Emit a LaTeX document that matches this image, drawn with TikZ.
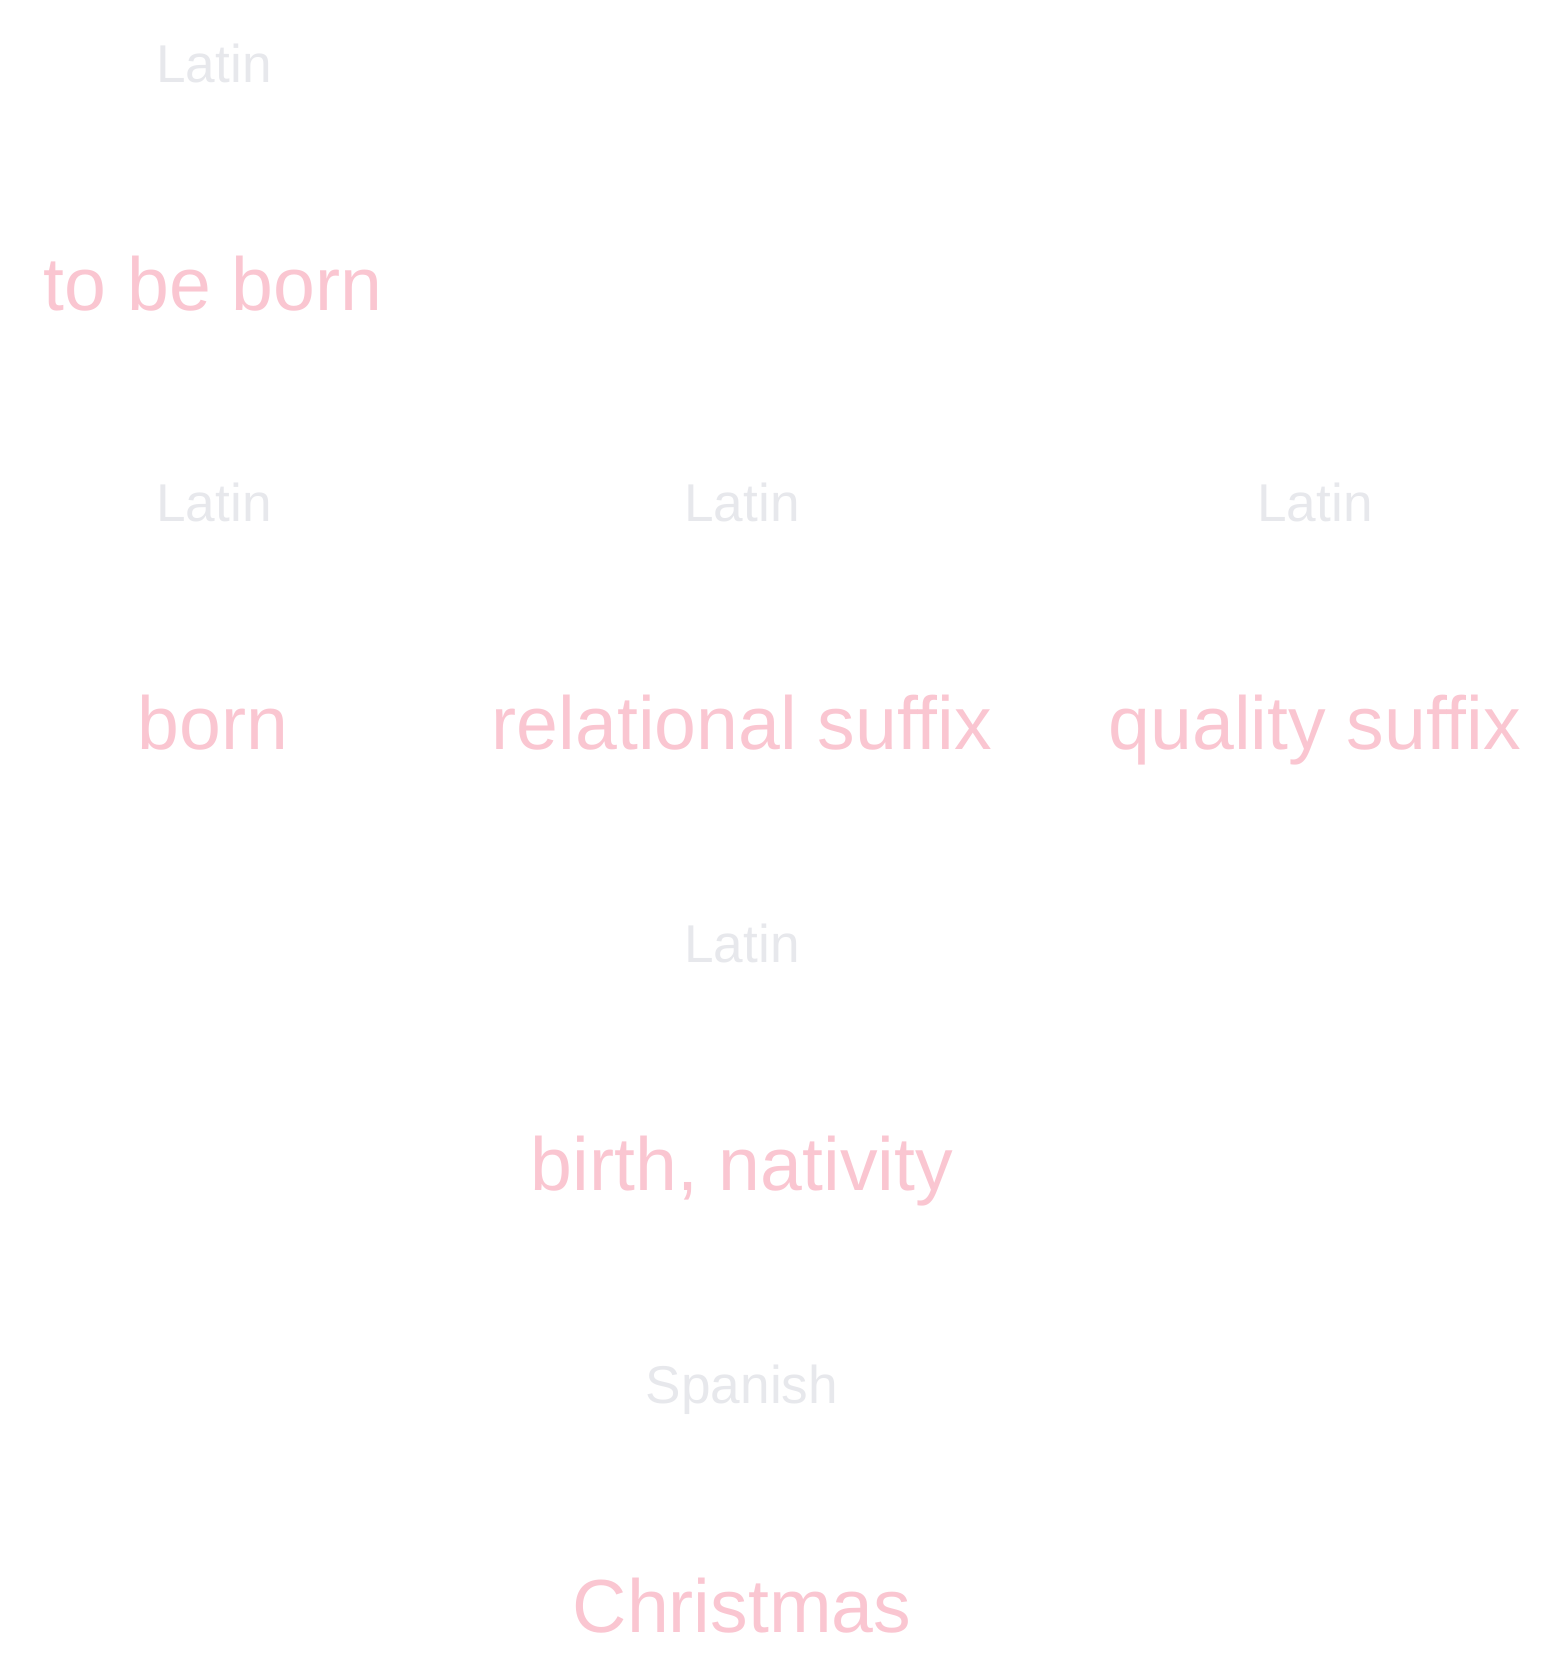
\documentclass[tikz,border=0pt]{standalone}
\usepackage{fontspec}
\setmainfont{Liberation Sans}
\definecolor{wordpink}{RGB}{250,198,209}
\definecolor{langgray}{RGB}{231,232,236}
\begin{document}
\begin{tikzpicture}[x=0.5pt,y=-0.5pt,
  lang/.style={inner sep=0pt,anchor=base,text=langgray,font=\fontsize{26.6}{30}\selectfont},
  word/.style={inner sep=0pt,anchor=base,text=wordpink,font=\fontsize{37.6}{42}\selectfont}]
\useasboundingbox (0,0) rectangle (1563,1677);
\node[lang] (l1) at (214,82) {Latin};
\node[word] (w1) at (213,310) {to be born};
\node[lang] (l2) at (214,521) {Latin};
\node[word] (w2) at (213,749) {born};
\node[lang] (l3) at (742,521) {Latin};
\node[word] (w3) at (742,749) {relational suffix};
\node[lang] (l4) at (1315,521) {Latin};
\node[word] (w4) at (1315,749) {quality suffix};
\node[lang] (l5) at (742,962) {Latin};
\node[word] (w5) at (742,1190) {birth, nativity};
\node[lang] (l6) at (742,1403) {Spanish};
\node[word] (w6) at (742,1632) {Christmas};
\end{tikzpicture}
\end{document}
